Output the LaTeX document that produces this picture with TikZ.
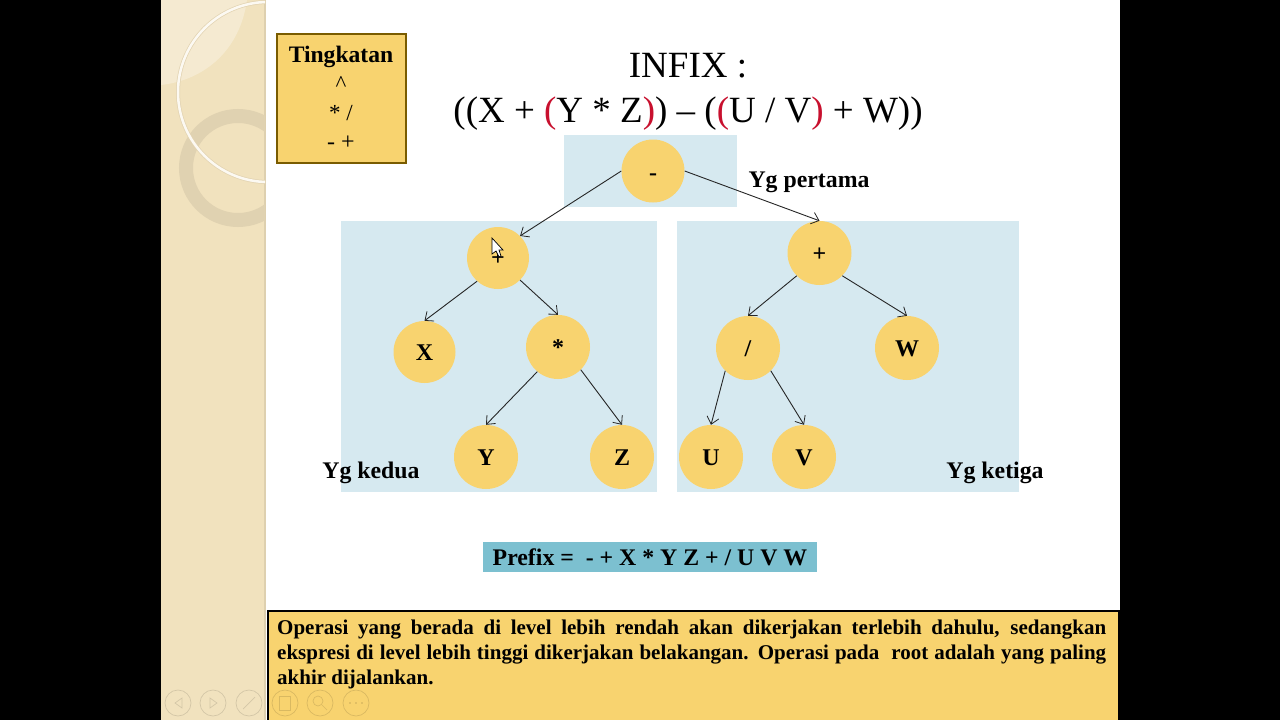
\documentclass[tikz,border=0pt]{standalone}
\usepackage{fontspec}
\setmainfont{Liberation Serif}
\usetikzlibrary{arrows.meta}
\definecolor{gold}{HTML}{F8D36F}
\definecolor{pale}{HTML}{D6E9F0}
\definecolor{teal}{HTML}{7CC0D0}
\definecolor{beige}{HTML}{F1E2BE}
\definecolor{brd}{HTML}{7A5C00}
\definecolor{redp}{HTML}{C8102E}
\tikzset{
  opn/.style={circle,fill=gold,minimum size=63pt,inner sep=0pt,text height=0pt,text depth=0pt,font=\fontsize{24}{26}\selectfont\bfseries},
  panel/.style={fill=pale,draw=none},
  link/.style={draw=black!85,line width=0.9pt,-{Straight Barb[length=7pt,width=12pt,line width=0.8pt]}},
  lab/.style={font=\fontsize{23.8}{26}\selectfont\bfseries,inner sep=0pt},
  tool/.style={circle,draw=black,draw opacity=.12,line width=0.7pt,minimum size=26pt,inner sep=0pt,fill=none},
  glyph/.style={draw=black,draw opacity=.12,line width=0.7pt,fill=none}
}
\begin{document}
\begin{tikzpicture}[x=1pt,y=-1pt]
\useasboundingbox (0,0) rectangle (1280,720);
\fill[black] (0,0) rectangle (1280,720);
\fill[white] (266,0) rectangle (1120,720);
\fill[beige] (161,0) rectangle (266,720);
\fill[black!8!beige] (264,0) rectangle (266,720);
% decorative rings
\begin{scope}
\clip (161,0) rectangle (265,720);
\fill[white,opacity=.3] (161,85) .. controls (205,80) and (240,50) .. (247,0) -- (161,0) -- cycle;
\draw[line width=14pt,color=black!7!beige] (238,168) circle (52pt);
\draw[line width=4pt,color=black!6!beige] (268,92) circle (90pt);
\draw[line width=2.5pt,color=white!80!beige] (268,92) circle (90pt);
\end{scope}
% panels
\fill[panel] (564,135) rectangle (737,207);
\fill[panel] (341,221) rectangle (657,492);
\fill[panel] (677,221) rectangle (1019,492);
% level box
\node[draw=brd,line width=2pt,fill=gold,minimum width=129pt,minimum height=129pt,inner sep=0pt] (levels) at (341,98.5) {};
\node[font=\fontsize{23.6}{26}\selectfont\bfseries,inner sep=0pt] (t1) at (341,57) {Tingkatan};
\node[font=\fontsize{23}{26}\selectfont,inner sep=0pt] (t2) at (341,84) {\^{}};
\node[font=\fontsize{23}{26}\selectfont,inner sep=0pt] (t3) at (341,113) {* /};
\node[font=\fontsize{24}{26}\selectfont,inner sep=0pt] (t4) at (341,143) {- +};
% title
\node[font=\fontsize{37}{40}\selectfont,inner sep=0pt] (title) at (688,66) {INFIX :};
\node[font=\fontsize{37}{40}\selectfont,inner sep=0pt] (expr) at (688,114) {((X + \textcolor{redp}{(}Y * Z\textcolor{redp}{)}) – (\textcolor{redp}{(}U / V\textcolor{redp}{)} + W))};
% tree nodes
\node[opn] (root) at (653,171) {\raisebox{-9.5pt}{-}};
\node[opn,minimum size=62pt] (pl) at (498,258) {\raisebox{-7pt}{+}};
\node[opn,minimum size=64pt] (pr) at (819.5,253) {\raisebox{-8pt}{+}};
\node[opn,minimum size=62pt] (x) at (424.5,352) {\raisebox{-8pt}{X}};
\node[opn,minimum size=64pt] (mul) at (558,347) {\raisebox{-8pt}{*}};
\node[opn,minimum size=64pt] (div) at (748,348) {\raisebox{-8pt}{/}};
\node[opn,minimum size=64pt] (w) at (907,348) {\raisebox{-8pt}{W}};
\node[opn,minimum size=64pt] (y) at (486,457) {\raisebox{-8pt}{Y}};
\node[opn,minimum size=64pt] (z) at (622,457) {\raisebox{-8pt}{Z}};
\node[opn,minimum size=64pt] (u) at (711,457) {\raisebox{-8pt}{U}};
\node[opn,minimum size=64pt] (v) at (804,457) {\raisebox{-8pt}{V}};
% connectors
\draw[link] (root.west) -- (pl.45);
\draw[link] (root.east) -- (pr.north);
\draw[link] (pl.228) -- (x.north);
\draw[link] (pl.-45) -- (mul.north);
\draw[link] (mul.230) -- (y.north);
\draw[link] (mul.-45) -- (z.north);
\draw[link] (pr.225) -- (div.north);
\draw[link] (pr.-45) -- (w.north);
\draw[link] (div.225) -- (u.north);
\draw[link] (div.-45) -- (v.north);
% labels
\node[lab] (l1) at (809,182) {Yg pertama};
\node[lab] (l2) at (371,473) {Yg kedua};
\node[lab] (l3) at (995,473) {Yg ketiga};
% prefix
\node[fill=teal,minimum width=334pt,minimum height=30pt,inner sep=0pt,text height=0pt,text depth=0pt,font=\fontsize{23.8}{26}\selectfont\bfseries] (prefix) at (650,557) {\raisebox{-8pt}{Prefix =\ \ - + X * Y Z + / U V W}};
% note
\fill[gold] (268,611) rectangle (1118,720);
\draw[black,line width=2.5pt] (268,720) -- (268,611) -- (1119,611) -- (1119,720);
\node[anchor=north west,inner sep=0pt,font=\fontsize{21}{25}\selectfont\bfseries,align=left] (note) at (277,620) {%
\makebox[829pt][s]{Operasi yang berada di level lebih rendah akan dikerjakan terlebih dahulu, sedangkan}\\
\makebox[829pt][s]{ekspresi di level lebih tinggi dikerjakan belakangan. Operasi pada\ \ root adalah yang paling}\\
akhir dijalankan.};
% tool icons
\foreach \n/\cx in {ta/178,tb/213,tc/249,td/285,te/320,tf/356}{
  \node[tool] (\n) at (\cx,703) {};
}
\draw[glyph] (182,698) -- (175,703) -- (182,708) -- cycle;
\draw[glyph] (210,698) -- (217,703) -- (210,708) -- cycle;
\draw[glyph] (243,709) -- (255,697);
\draw[glyph] (279,696) rectangle (290,710);
\draw[glyph] (318,701) circle (5pt);
\draw[glyph] (322,705) -- (327,710);
\foreach \d in {350,356,362}{\fill[black,opacity=.12] (\d,703) circle (1.2pt);}
% mouse cursor
\filldraw[fill=white,draw=black,line width=0.7pt] (492,238) -- (492,254) -- (496,251) -- (499,257) -- (501,256) -- (499,250) -- (503,250) -- cycle;
\end{tikzpicture}
\end{document}
